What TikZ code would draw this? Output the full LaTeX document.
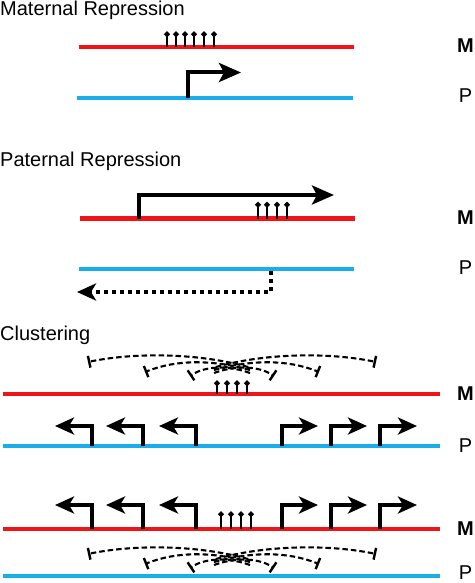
\documentclass[tikz,border=0pt]{standalone}
\usepackage{fontspec}
\setmainfont{Liberation Sans}
\usetikzlibrary{arrows.meta}
\definecolor{mred}{RGB}{240,20,24}
\definecolor{pblue}{RGB}{24,174,236}
\tikzset{
  strandM/.style={draw=mred,line width=4.5pt},
  strandP/.style={draw=pblue,line width=4.5pt},
  pinmark/.style={line width=2pt,-{Circle[length=5.4pt]}},
  prom/.style={line width=4pt,-{Stealth[length=22pt,width=19pt,inset=5pt]}},
  promsmall/.style={line width=4pt,-{Stealth[length=19pt,width=17pt,inset=5pt]}},
  dashprom/.style={line width=3.8pt,dash pattern=on 4pt off 4pt,-{Stealth[length=19pt,width=17pt,inset=5pt]}},
  repress/.style={line width=2.1pt,dash pattern=on 5.5pt off 3pt,-{Bar[width=12pt,line width=2.4pt]}},
  title/.style={font=\fontsize{20pt}{23pt}\selectfont,anchor=base west,inner sep=0pt},
  mlab/.style={font=\fontsize{20pt}{22pt}\selectfont\bfseries,inner sep=0pt},
  plab/.style={font=\fontsize{20pt}{22pt}\selectfont,inner sep=0pt}
}
\begin{document}
\begin{tikzpicture}[x=1pt,y=-1pt]
\useasboundingbox (0,0) rectangle (474,583);

% ---------- Maternal Repression ----------
\node[title] (t1) at (0,15.5) {Maternal Repression};
\coordinate (m1a) at (79,47); \coordinate (m1b) at (354,47);
\coordinate (p1a) at (77,98); \coordinate (p1b) at (353,98);
\draw[strandM] (m1a) -- (m1b);
\draw[strandP] (p1a) -- (p1b);
\foreach \x in {167,176,185,194,204,214}{
  \coordinate (b) at (\x,47); \coordinate (tp) at (\x,31.5);
  \draw[pinmark] (b) -- (tp);
}
\coordinate (s1) at (188,98); \coordinate (e1) at (241,72.5);
\draw[prom] (s1) |- (e1);
\node[mlab] (M1) at (465.5,46) {M};
\node[plab] (P1) at (465.5,96) {P};

% ---------- Paternal Repression ----------
\node[title] (t2) at (0,166) {Paternal Repression};
\coordinate (m2a) at (80,218.5); \coordinate (m2b) at (355,218.5);
\coordinate (p2a) at (79,269); \coordinate (p2b) at (354,269);
\draw[strandM] (m2a) -- (m2b);
\draw[strandP] (p2a) -- (p2b);
\foreach \x in {258,267,277,287}{
  \coordinate (b) at (\x,218.5); \coordinate (tp) at (\x,202);
  \draw[pinmark] (b) -- (tp);
}
\coordinate (s2) at (139,218.5); \coordinate (e2) at (334,195);
\draw[prom] (s2) |- (e2);
\coordinate (s2d) at (271,271); \coordinate (e2d) at (77,292);
\draw[dashprom] (s2d) |- (e2d);
\node[mlab] (M2) at (465.5,218) {M};
\node[plab] (P2) at (465.5,268) {P};

% ---------- Clustering ----------
\node[title] (t3) at (0,340) {Clustering};
\coordinate (m3a) at (3,394); \coordinate (m3b) at (440,394);
\coordinate (p3a) at (3,446); \coordinate (p3b) at (440,446);
\draw[strandM] (m3a) -- (m3b);
\draw[strandP] (p3a) -- (p3b);
\foreach \x in {217,227,237,247}{
  \coordinate (b) at (\x,394); \coordinate (tp) at (\x,380.5);
  \draw[pinmark] (b) -- (tp);
}
\foreach \sx/\tx in {92/55,143/106,196/159}{
  \coordinate (s) at (\sx,446); \coordinate (e) at (\tx,426);
  \draw[promsmall] (s) |- (e);
}
\foreach \sx/\tx in {282/318,331/367,380/417}{
  \coordinate (s) at (\sx,446); \coordinate (e) at (\tx,426);
  \draw[promsmall] (s) |- (e);
}
% repression arcs
\coordinate (a31) at (248,367); \coordinate (l31) at (88,362);
\coordinate (a32) at (250,370); \coordinate (l32) at (145,372);
\coordinate (a33) at (250,373); \coordinate (l33) at (190,376);
\coordinate (b31) at (216,367); \coordinate (r31) at (376,362);
\coordinate (b32) at (214,370); \coordinate (r32) at (319,372);
\coordinate (b33) at (214,373); \coordinate (r33) at (274,376);
\draw[repress] (a31) .. controls (195,352) and (130,353) .. (l31);
\draw[repress] (a32) .. controls (210,359) and (175,360) .. (l32);
\draw[repress] (a33) .. controls (228,365) and (205,366) .. (l33);
\draw[repress] (b31) .. controls (269,352) and (334,353) .. (r31);
\draw[repress] (b32) .. controls (254,359) and (289,360) .. (r32);
\draw[repress] (b33) .. controls (236,365) and (259,366) .. (r33);
\node[mlab] (M3) at (465.5,394) {M};
\node[plab] (P3) at (465.5,446) {P};

% ---------- Clustering (second) ----------
\coordinate (m4a) at (3,529); \coordinate (m4b) at (440,529);
\coordinate (p4a) at (3,576); \coordinate (p4b) at (440,576);
\draw[strandM] (m4a) -- (m4b);
\draw[strandP] (p4a) -- (p4b);
\foreach \x in {221,231,241,251}{
  \coordinate (b) at (\x,529); \coordinate (tp) at (\x,511.5);
  \draw[pinmark] (b) -- (tp);
}
\foreach \sx/\tx in {92/55,143/106,196/159}{
  \coordinate (s) at (\sx,529); \coordinate (e) at (\tx,505);
  \draw[promsmall] (s) |- (e);
}
\foreach \sx/\tx in {282/318,331/367,380/417}{
  \coordinate (s) at (\sx,529); \coordinate (e) at (\tx,505);
  \draw[promsmall] (s) |- (e);
}
\coordinate (a41) at (248,559); \coordinate (l41) at (88,554);
\coordinate (a42) at (250,562); \coordinate (l42) at (145,564);
\coordinate (a43) at (250,565); \coordinate (l43) at (190,568);
\coordinate (b41) at (216,559); \coordinate (r41) at (376,554);
\coordinate (b42) at (214,562); \coordinate (r42) at (319,564);
\coordinate (b43) at (214,565); \coordinate (r43) at (274,568);
\draw[repress] (a41) .. controls (195,544) and (130,545) .. (l41);
\draw[repress] (a42) .. controls (210,551) and (175,552) .. (l42);
\draw[repress] (a43) .. controls (228,557) and (205,558) .. (l43);
\draw[repress] (b41) .. controls (269,544) and (334,545) .. (r41);
\draw[repress] (b42) .. controls (254,551) and (289,552) .. (r42);
\draw[repress] (b43) .. controls (236,557) and (259,558) .. (r43);
\node[mlab] (M4) at (465.5,529) {M};
\node[plab] (P4) at (465.5,573) {P};
\end{tikzpicture}
\end{document}
